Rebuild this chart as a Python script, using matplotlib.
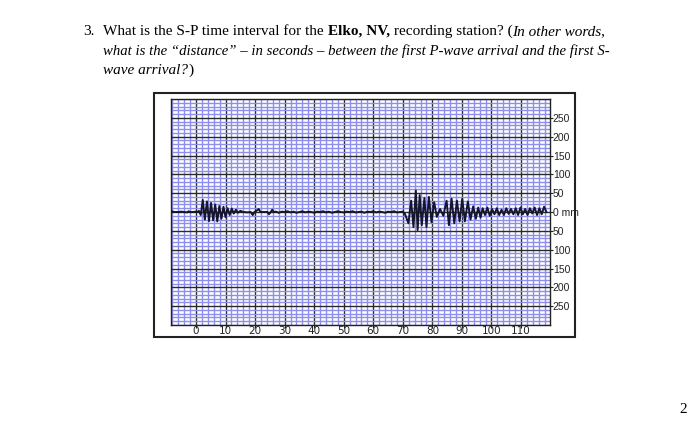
import matplotlib
matplotlib.use('Agg')
import matplotlib.pyplot as plt
from matplotlib.patches import Rectangle
from matplotlib.ticker import MultipleLocator

# seismogram trace: time (s) and amplitude (mm)
trace_t = [-8.5, -8, -7.5, -6, -5, -4, -3, -2.5, -2, -1, 0, 0.5,
           1.0, 1.6, 2.3, 3.0, 3.7, 4.4, 5.1, 5.8, 6.5, 7.2, 7.9, 8.6, 9.3, 10.0,
           10.7, 11.4, 12.1, 12.8, 13.5, 14.2, 15.0, 16.0, 17.5, 18.5, 19.2, 19.8,
           20.6, 21.2, 21.8, 23.0, 24.2, 24.7, 25.3, 25.8, 26.3,
           27, 28, 29, 30, 31, 32, 33, 34, 35, 36, 37, 38, 39, 40, 41, 42, 43, 44,
           45, 46, 47, 48, 49, 50, 51, 52, 53, 54, 55, 56, 57, 58, 59, 60, 61, 62,
           63, 64, 65, 66, 67, 68, 69, 70,
           70.7, 71.9, 72.8, 73.6, 74.4, 75.0, 75.7, 76.4, 77.3, 78.0, 78.8, 79.7,
           80.6, 81.5, 82.6, 83.7, 84.8, 85.6, 86.5, 87.4, 88.3, 89.2, 90.1, 91.0,
           92.0, 92.9, 93.8, 94.7, 95.5, 96.3, 97.0, 97.8, 98.6, 99.4, 100.2, 101.0,
           101.8, 102.6, 103.4, 104.2, 105.0, 105.8, 106.6, 107.4, 108.2, 109.0,
           109.8, 110.6, 111.4, 112.2, 113.0, 113.8, 114.6, 115.4, 116.2, 117.0,
           117.8, 118.6]
trace_mm = [0, 2, 0, 0, 1, 0, -1, 2, 0, 0, 1, 0,
            3, -8, 32, -20, 28, -24, 24, -22, 20, -25, 16, -18, 14, -14,
            10, -8, 9, -4, 6, -2, 3, 0, -1, 0, -8, 0,
            4, 8, 0, 0, 0, -6, 0, 6, 0,
            1, -2, 1, 0, 2, -1, 1, -2, 0, 2, -1, 1, 0, -2, 1, 0, 2, -1,
            1, -2, 0, 2, 0, -1, 1, 0, 2, -1, 0, 1, -2, 1, 0, 2, -1, 1,
            0, -2, 1, 0, 2, -1, 0, 1,
            -5, -30, 30, -40, 57, -48, 45, -35, 37, -40, 40, -27,
            26, -13, 8, -10, 30, -35, 35, -30, 30, -25, 35, -25,
            28, -20, 15, -18, 12, -15, 10, -8, 12, -10, 8, -6,
            10, -8, 6, -8, 10, -5, 8, -6, 10, -8,
            12, -6, 8, -8, 10, -4, 12, -8, 10, -6,
            14, 0]

x_ticks = [0, 10, 20, 30, 40, 50, 60, 70, 80, 90, 100, 110]
y_ticks = [-250, -200, -150, -100, -50, 0, 50, 100, 150, 200, 250]
y_labels = ['250', '200', '150', '100', '50', '0 mm', '50', '100', '150', '200', '250']

W, H = 700, 434
fig = plt.figure(figsize=(7, 4.34), dpi=100)
fig.patch.set_facecolor('white')

# outer frame round the record
fig.add_artist(Rectangle((154 / W, 1 - 337 / H), 421 / W, 244 / H,
                         transform=fig.transFigure, fill=False,
                         edgecolor='#222222', linewidth=1.5))

ax = fig.add_axes([171 / W, 1 - 325 / H, 379 / W, 226 / H])
ax.set_xlim(-8.46, 119.8)
ax.set_ylim(-300, 300)

ax.xaxis.set_minor_locator(MultipleLocator(2))
ax.yaxis.set_minor_locator(MultipleLocator(10))
ax.set_xticks(x_ticks)
ax.set_xticklabels([str(v) for v in x_ticks], family='Liberation Sans Narrow', fontsize=7.5)
ax.yaxis.tick_right()
ax.set_yticks(y_ticks)
ax.set_yticklabels(y_labels, family='Liberation Sans', fontsize=7.5)
ax.grid(which='minor', color='#8e8eec', linewidth=1.0)
ax.grid(which='major', color='#2a2a2a', linewidth=1.0)
ax.set_axisbelow(True)
ax.tick_params(which='minor', length=0)
ax.tick_params(which='major', length=2, width=0.8, pad=0, colors='#222222')
ax.tick_params(axis='x', pad=-1)
for s in ax.spines.values():
    s.set_color('#222222')
    s.set_linewidth(1.0)

ax.plot(trace_t, trace_mm, color='#15152e', linewidth=1.4, zorder=3)

# question text with mixed styles
renderer = fig.canvas.get_renderer()


def put_runs(x, y, runs, size=11):
    for txt, style, weight in runs:
        t = fig.text(x / W, 1 - y / H, txt, fontsize=size, family='Liberation Serif',
                     style=style, weight=weight, va='baseline', ha='left')
        x += t.get_window_extent(renderer).width


fig.text(83 / W, 1 - 35 / H, '3.', fontsize=11, family='Liberation Serif',
         va='baseline', ha='left')
put_runs(103, 35, [('What is the S-P time interval for the ', 'normal', 'normal'),
                   ('Elko, NV,', 'normal', 'bold'),
                   (' recording station? (', 'normal', 'normal'),
                   ('In other words,', 'italic', 'normal')])
put_runs(103, 55, [('what is the \u201cdistance\u201d \u2013 in seconds \u2013 between the first '
                    'P-wave arrival and the first S-', 'italic', 'normal')], size=10.6)
put_runs(103, 74, [('wave arrival?', 'italic', 'normal'), (')', 'normal', 'normal')])

fig.text(683 / W, 1 - 413 / H, '2', fontsize=11, family='Liberation Serif',
         va='baseline', ha='center')

fig.savefig('out.png', dpi=100)
